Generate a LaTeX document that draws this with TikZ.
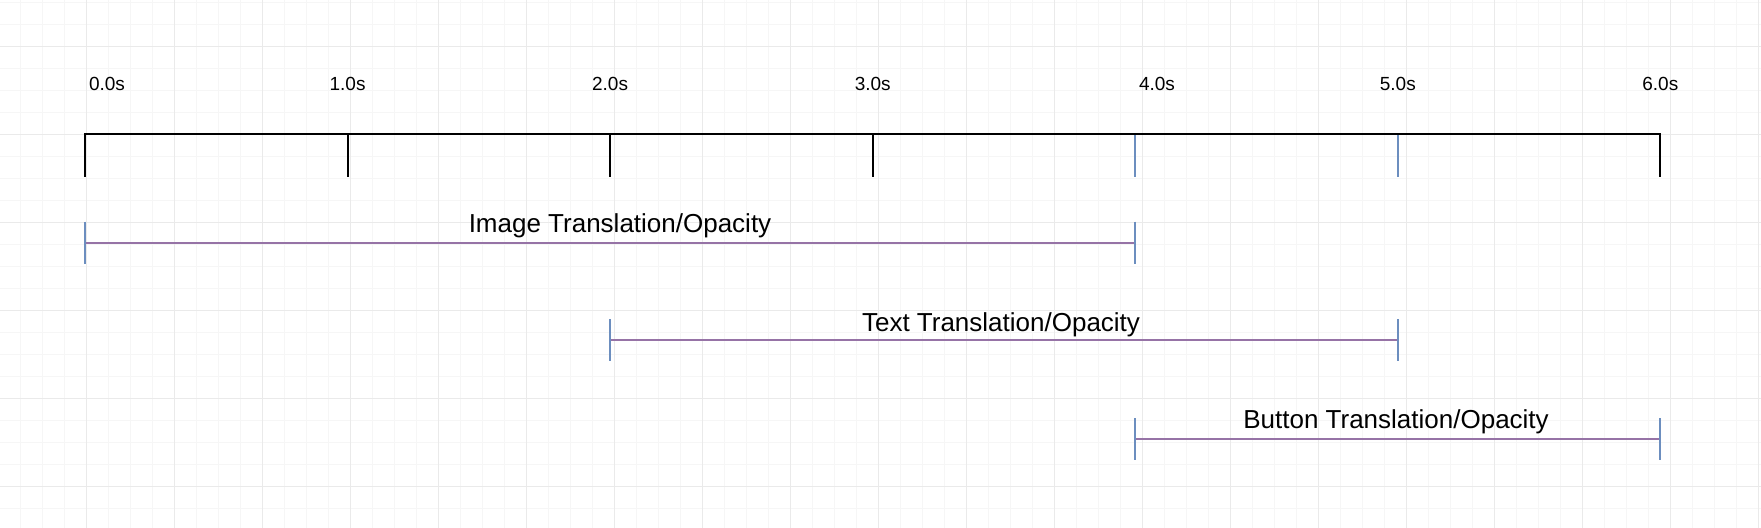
\documentclass[tikz,border=0pt]{standalone}
\usepackage{fontspec}
\setmainfont{Liberation Sans}
\usepackage{tikz}

\definecolor{barpurple}{HTML}{9673A6}
\definecolor{capblue}{HTML}{6C8EBF}
\definecolor{gridmajor}{HTML}{EAEAEA}
\definecolor{gridminor}{HTML}{F6F6F6}

\begin{document}
\begin{tikzpicture}[x=0.5pt,y=-0.5pt,
  minorgrid/.style={gridminor,line width=0.45pt},
  majorgrid/.style={gridmajor,line width=0.45pt},
  axis/.style={black,line width=1pt},
  endcap/.style={capblue,line width=0.9pt},
  span/.style={barpurple,line width=1pt},
  ticklabel/.style={font=\fontsize{9.5}{11}\selectfont,anchor=base,inner sep=0pt},
  spanlabel/.style={font=\fontsize{13}{15}\selectfont,anchor=base,inner sep=0pt}]
\useasboundingbox (0,0) rectangle (1761,528);
\fill[white] (0,0) rectangle (1761,528);
% grid
\foreach \x in {-2,20,...,1761} \draw[minorgrid] (\x,0) -- (\x,528);
\foreach \y in {2.7,24.7,...,528} \draw[minorgrid] (0,\y) -- (1761,\y);
\foreach \x in {-2,86,...,1761} \draw[majorgrid] (\x,0) -- (\x,528);
\foreach \y in {46.7,134.7,...,528} \draw[majorgrid] (0,\y) -- (1761,\y);
% time axis
\foreach \i in {0,...,6} {
  \coordinate (t\i) at ({85+262.55*\i},134);
  \coordinate (b\i) at ({85+262.55*\i},176.7);
}
\foreach \i in {4,5} \draw[endcap] (t\i) -- (b\i);
\draw[axis] (b0) -- (t0) -- (t6) -- (b6);
\foreach \i in {1,2,3} \draw[axis] (t\i) -- (b\i);
\foreach \i/\x in {0/107,1/347.6,2/610.1,3/872.7,4/1157,5/1397.8,6/1660.3}
  \node[ticklabel] (l\i) at (\x,91) {\i.0s};
% spans
\foreach \n/\a/\b/\y in {img/85/1135.2/242.7,txt/610.1/1397.8/340.5,btn/1135.2/1660.3/439.3} {
  \coordinate (\n a) at (\a,\y);
  \coordinate (\n b) at (\b,\y);
  \draw[span] (\n a) -- (\n b);
  \draw[endcap] ([yshift=10.5pt]\n a) -- ([yshift=-10.5pt]\n a);
  \draw[endcap] ([yshift=10.5pt]\n b) -- ([yshift=-10.5pt]\n b);
}
\node[spanlabel] (imglbl) at (620,233) {Image Translation/Opacity};
\node[spanlabel] (txtlbl) at (1001,331.5) {Text Translation/Opacity};
\node[spanlabel] (btnlbl) at (1396,429) {Button Translation/Opacity};
\end{tikzpicture}
\end{document}
